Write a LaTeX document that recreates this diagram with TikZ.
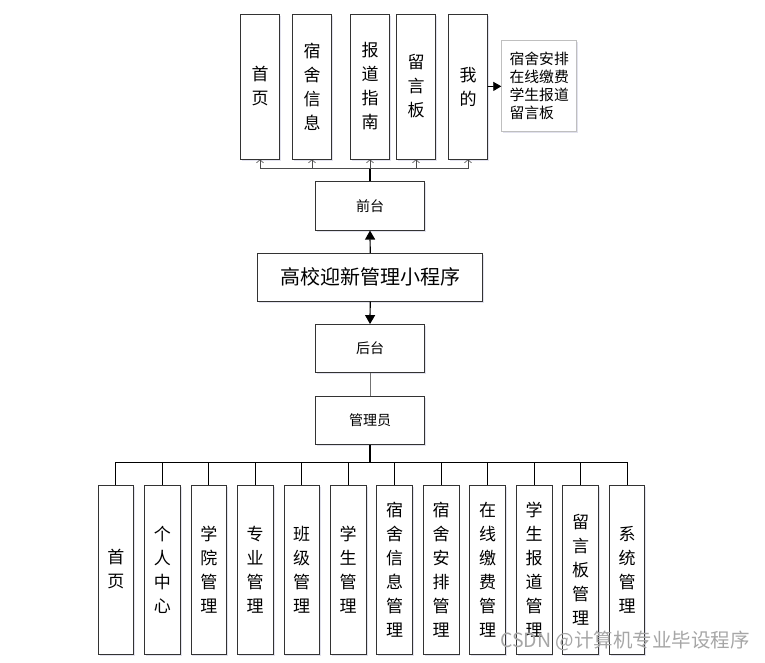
\documentclass[tikz,border=0pt]{standalone}
\usepackage{fontspec}
\setmainfont{Noto Sans CJK SC}
\usetikzlibrary{arrows.meta,shadows}
\begin{document}
\begin{tikzpicture}[x=1pt,y=-1pt,
  box/.style={draw=black!80, line width=0.8pt, fill=white, inner sep=0pt,
    drop shadow={shadow xshift=1.5pt, shadow yshift=-1.5pt, opacity=0.18, fill=blue!25!gray}},
  tbox/.style={box, minimum width=38.6pt, minimum height=145pt, align=center,
    font=\fontsize{17}{24}\selectfont},
  bbox/.style={box, minimum width=35.6pt, minimum height=169pt, align=center,
    font=\fontsize{17}{24}\selectfont},
  hbox/.style={box, minimum width=108.6pt, minimum height=48.3pt,
    font=\fontsize{14}{16}\selectfont},
  infobox/.style={box, draw=black!25, minimum width=75pt, minimum height=91pt,
    align=left, font=\fontsize{14.8}{18}\selectfont},
  conn/.style={line width=0.8pt, black},
  thinconn/.style={line width=0.6pt, black!70},
  uparrow/.style={thinconn, -{Straight Barb[length=3pt,width=7pt]}},
  mainarrow/.style={conn, line width=1.2pt, -{Triangle[length=9pt,width=10pt]}}
]
\useasboundingbox (0,0) rectangle (765,662);

% top row
\node[tbox] (t1) at (260,86.5) {首\\页};
\node[tbox] (t2) at (312,86.5) {宿\\舍\\信\\息};
\node[tbox] (t3) at (370,86.5) {报\\道\\指\\南};
\node[tbox] (t4) at (416,86.5) {留\\言\\板};
\node[tbox] (t5) at (468,86.5) {我\\的};
\node[infobox] (info) at (539.2,86.3) {宿舍安排\\在线缴费\\学生报道\\留言板};
\draw[conn, -{Triangle[length=8pt,width=9pt]}] (t5.east) -- (info.west);

% middle column
\node[hbox] (qt) at (370,206) {前台};
\node[hbox, minimum width=225pt, minimum height=48pt, font=\fontsize{20}{22}\selectfont] (main) at (370.2,277.3) {高校迎新管理小程序};
\node[hbox] (ht) at (370,348.6) {后台};
\node[hbox] (adm) at (370,420.3) {管理员};

\coordinate (topbus) at (370,168.3);
\draw[conn, line width=1.4pt] (qt.north) -- (topbus);
\foreach \n in {t1,t2,t3,t4,t5}
  \draw[uparrow] (topbus) -| (\n.south);

\draw[mainarrow] (main.north) -- (qt.south);
\draw[mainarrow] (main.south) -- (ht.north);
\draw[thinconn, black!55] (ht.south) -- (adm.north);

% bottom row
\foreach \i/\t in {0/{首\\页},1/{个\\人\\中\\心},2/{学\\院\\管\\理},3/{专\\业\\管\\理},
  4/{班\\级\\管\\理},5/{学\\生\\管\\理},6/{宿\\舍\\信\\息\\管\\理},7/{宿\\舍\\安\\排\\管\\理},
  8/{在\\线\\缴\\费\\管\\理},9/{学\\生\\报\\道\\管\\理},10/{留\\言\\板\\管\\理},11/{系\\统\\管\\理}}
  \node[bbox] (b\i) at ({115.8+46.48*\i},569.5) {\t};

\coordinate (botbus) at (370,462.7);
\draw[conn, line width=1.4pt] (adm.south) -- (botbus);
\foreach \i in {0,...,11}
  \draw[conn] (botbus) -| (b\i.north);

% watermark
\node[text=black!35, font=\fontsize{19.5}{22}\selectfont, anchor=west, inner sep=0pt] (wm) at (500,641) {CSDN @计算机专业毕设程序};
\end{tikzpicture}
\end{document}
